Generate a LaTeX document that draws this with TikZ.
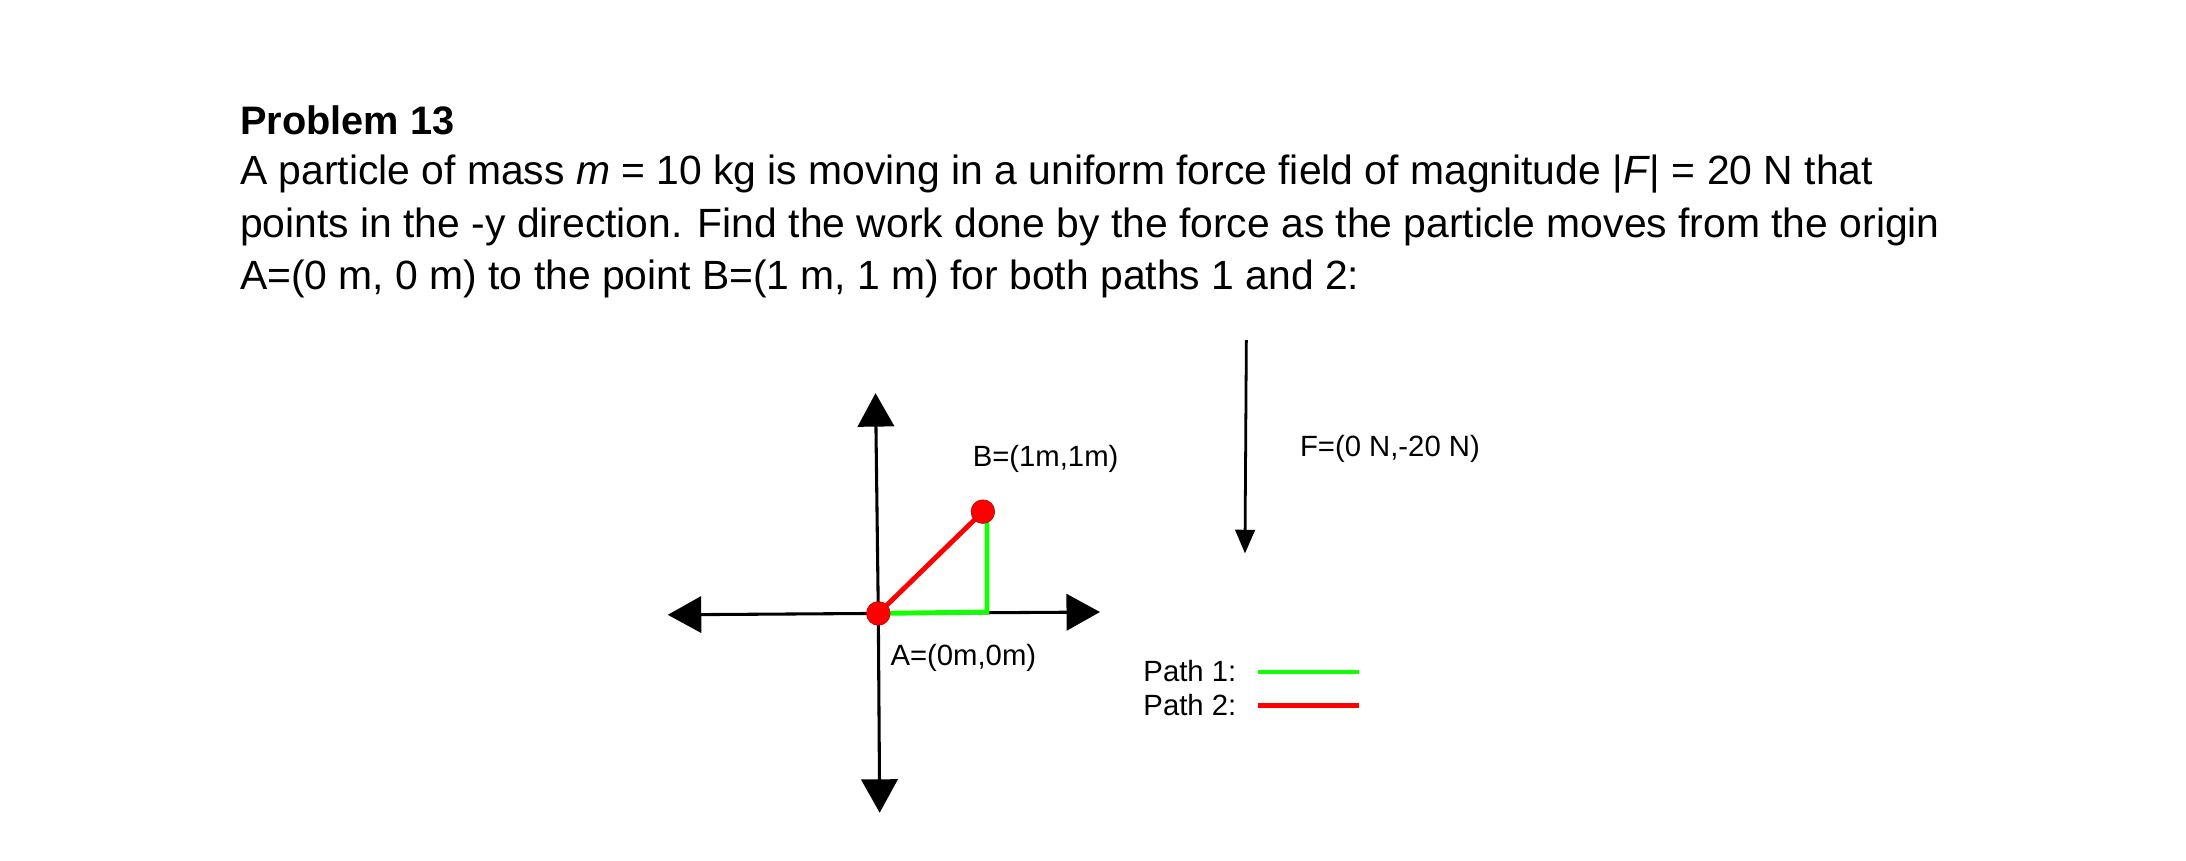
\documentclass[tikz,border=0pt]{standalone}
\usepackage{fontspec}
\setmainfont{Liberation Sans}
\usetikzlibrary{arrows.meta}
\begin{document}
\begin{tikzpicture}[x=1pt,y=-1pt,
  body/.style={anchor=west,inner sep=0pt,font=\fontsize{29.3}{34}\selectfont},
  lbl/.style={inner sep=0pt,font=\fontsize{21}{25}\selectfont},
  axis/.style={line width=2.2pt,-{Triangle[width=26pt,length=24pt]}},
  dot/.style={circle,fill=red,draw=red!70!black,minimum width=15pt,minimum height=17pt,inner sep=0pt}]
\useasboundingbox (0,0) rectangle (1568,617);
\node[body,font=\bfseries\fontsize{28.5}{34}\selectfont] (t0) at (172,86) {Problem 13};
\node[body] (t1) at (172,125) {A particle of mass \textit{m} = 10 kg is moving in a uniform force field of magnitude |\textit{F}| = 20 N that};
\node[body] (t2) at (172,163) {points in the -y direction. Find the work done by the force as the particle moves from the origin};
\node[body] (t3) at (172,200) {A=(0 m, 0 m) to the point B=(1 m, 1 m) for both paths 1 and 2:};
\coordinate (O) at (630,440);
\coordinate (yp) at (628,282);
\coordinate (ym) at (631,583);
\coordinate (xm) at (479,441);
\coordinate (xp) at (789,439);
\draw[axis] (O) -- (yp);
\draw[axis] (O) -- (ym);
\draw[axis] (O) -- (xm);
\draw[axis] (O) -- (xp);
\coordinate (C) at (708,439);
\coordinate (Bp) at (705,367);
\draw[green!90!lime,line width=3.5pt] (O) -- (C) -- (708,372);
\draw[red,line width=3.5pt] (O) -- (Bp);
\node[dot] (A) at (O) {};
\node[dot] (B) at (Bp) {};
\node[lbl] (bl) at (750,329) {B=(1m,1m)};
\node[lbl] (al) at (691,472) {A=(0m,0m)};
\coordinate (f1) at (894,244);
\coordinate (f2) at (893,397);
\draw[line width=2pt,-{Triangle[width=14pt,length=17pt]}] (f1) -- (f2);
\node[lbl] (fl) at (997,322) {F=(0 N,-20 N)};
\node[lbl,anchor=west] (p1) at (820,481) {Path 1:};
\node[lbl,anchor=west] (p2) at (820,506) {Path 2:};
\coordinate (g1) at (902,482); \coordinate (g2) at (975,482);
\coordinate (r1) at (902,506); \coordinate (r2) at (975,506);
\draw[green!90!lime,line width=3.5pt] (g1) -- (g2);
\draw[red,line width=3.5pt] (r1) -- (r2);
\end{tikzpicture}
\end{document}
